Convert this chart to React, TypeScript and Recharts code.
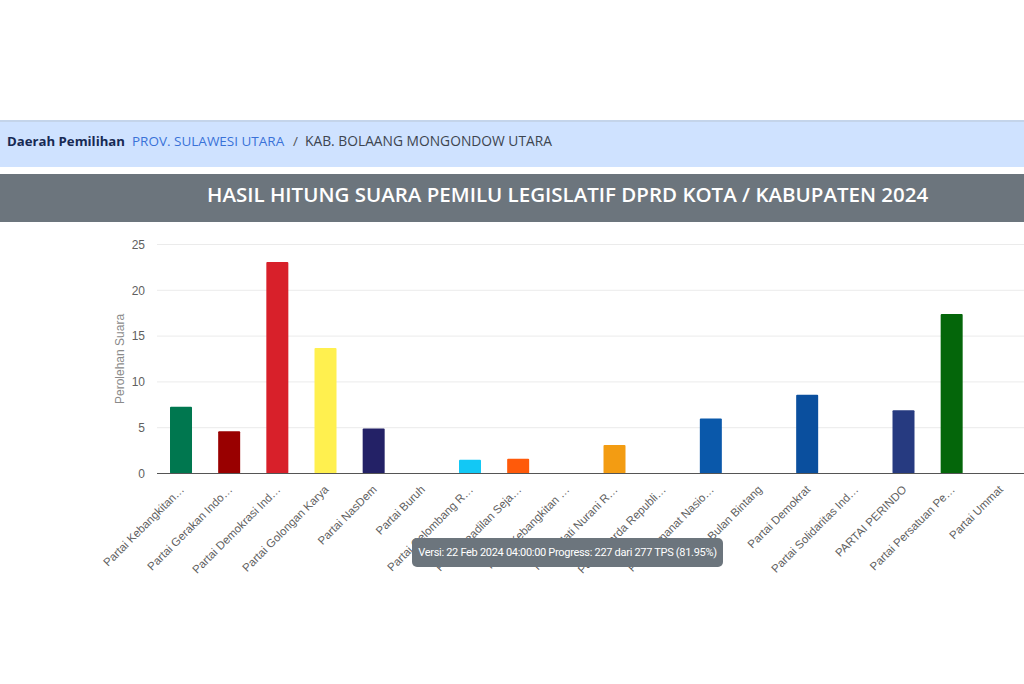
import React from 'react'
import { BarChart, Bar, Cell, XAxis, YAxis, CartesianGrid } from 'recharts'

const parties = [
  'Partai Kebangkitan…',
  'Partai Gerakan Indo…',
  'Partai Demokrasi Ind…',
  'Partai Golongan Karya',
  'Partai NasDem',
  'Partai Buruh',
  'Partai Gelombang R…',
  'Partai Keadilan Seja…',
  'Partai Kebangkitan …',
  'Partai Hati Nurani R…',
  'Partai Garda Republi…',
  'Partai Amanat Nasio…',
  'Partai Bulan Bintang',
  'Partai Demokrat',
  'Partai Solidaritas Ind…',
  'PARTAI PERINDO',
  'Partai Persatuan Pe…',
  'Partai Ummat',
]
const votes = [7.3, 4.6, 23.1, 13.7, 4.9, 0.03, 1.5, 1.6, 0.03, 3.1, 0.03, 6.0, 0.03, 8.6, 0.03, 6.9, 17.4, 0.03]
const colors = [
  '#00774f', '#990000', '#d8202a', '#fff04f', '#232166', '#d5452f', '#12c8f5', '#ff5a0a', '#0a7a3c',
  '#f39c12', '#8a1020', '#0a58aa', '#0a6a3a', '#0a4f9e', '#d8202a', '#263a80', '#04660a', '#1a3a6a',
]
const yTicks = [0, 5, 10, 15, 20, 25]

const data = parties.map((name, i) => ({ name, votes: votes[i] }))

const sans = '"Open Sans", "Noto Sans", sans-serif'

function App() {
  return (
    <div style={{ position: 'absolute', left: 0, top: 0, width: 1024, height: 684, background: '#fff', overflow: 'hidden' }}>
      <div style={{ position: 'absolute', left: 0, top: 120, width: 1024, height: 47, background: '#cfe2ff', borderTop: '2px solid #c4d4ea', boxSizing: 'border-box', fontFamily: sans, fontSize: 13.5, lineHeight: '38px', whiteSpace: 'nowrap' }}>
        <span style={{ position: 'absolute', left: 7, fontWeight: 700, fontSize: 13.2, color: '#172a54' }}>Daerah Pemilihan</span>
        <span style={{ position: 'absolute', left: 132, color: '#3a72d8' }}>PROV. SULAWESI UTARA</span>
        <span style={{ position: 'absolute', left: 293, color: '#555' }}>/</span>
        <span style={{ position: 'absolute', left: 305, fontSize: 13.8, color: '#3d4550' }}>KAB. BOLAANG MONGONDOW UTARA</span>
      </div>
      <div style={{ position: 'absolute', left: 0, top: 174, width: 1024, height: 48, background: '#6c757d', color: '#fff', fontFamily: sans, fontSize: 20.5, fontWeight: 600, lineHeight: '41px', whiteSpace: 'nowrap' }}>
        <span style={{ position: 'absolute', left: 207 }}>HASIL HITUNG SUARA PEMILU LEGISLATIF DPRD KOTA / KABUPATEN 2024</span>
      </div>
      <div style={{ position: 'absolute', left: 0, top: 222 }}>
        <BarChart
          width={1024}
          height={360}
          data={data}
          barCategoryGap="27%"
          margin={{ top: 22.5, right: 0, left: 0, bottom: 0 }}
        >
          <CartesianGrid vertical={false} stroke="#ebebeb" />
          <XAxis
            dataKey="name"
            interval={0}
            angle={-45}
            textAnchor="end"
            height={108.5}
            tickLine={false}
            tickMargin={5}
            stroke="#555"
            tick={{ fill: '#5f5f5f', fontSize: 11.5, fontFamily: 'Liberation Sans', dx: -2 }}
          />
          <YAxis
            width={157}
            domain={[0, 25]}
            ticks={yTicks}
            axisLine={false}
            tickLine={false}
            tickMargin={6}
            tick={{ fill: '#5f5f5f', fontSize: 12, fontFamily: 'Liberation Sans' }}
            label={{ value: 'Perolehan Suara', angle: -90, position: 'insideLeft', dx: 115, dy: 45, fill: '#8a8a8a', fontSize: 12, fontFamily: 'Liberation Sans' }}
          />
          <Bar dataKey="votes" isAnimationActive={false} radius={1}>
            {data.map((d, i) => (
              <Cell key={d.name} fill={colors[i]} />
            ))}
          </Bar>
        </BarChart>
      </div>
      <div style={{ position: 'absolute', left: 412, top: 538, width: 311, height: 29, background: '#6c757d', borderRadius: 5, color: '#fff', fontFamily: 'Roboto, sans-serif', fontSize: 11, letterSpacing: -0.3, lineHeight: '29px', textAlign: 'center', whiteSpace: 'nowrap' }}>
        Versi: 22 Feb 2024 04:00:00 Progress: 227 dari 277 TPS (81.95%)
      </div>
    </div>
  )
}

export default App
